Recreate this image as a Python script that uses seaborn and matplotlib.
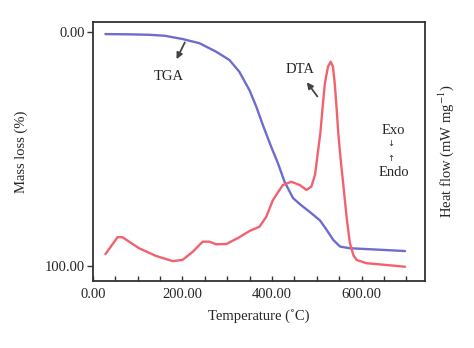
import matplotlib
matplotlib.use("Agg")
import matplotlib.pyplot as plt
import seaborn as sns
import numpy as np
import pandas as pd
from matplotlib.ticker import MultipleLocator, FixedLocator, FuncFormatter

# ---- data ----
tga_temp = [28, 80, 126, 160, 200, 238, 275, 305, 327, 350, 365, 380, 398, 413, 428, 447, 465, 485, 507, 520,
            537, 552, 574, 626, 697]
tga_mass = [0.9, 1.0, 1.2, 1.6, 3.0, 4.8, 8.4, 12.0, 17.0, 25.0, 32.0, 40.0, 49.0, 56.0, 64.0, 71.0, 74.0, 77.0, 80.5, 84.0,
            88.9, 91.7, 92.4, 92.9, 93.6]

dta_temp = [28, 55, 66, 103, 141, 178, 200, 223, 245, 260, 275, 298, 327, 350, 372, 387, 402, 424, 443, 462,
            477, 488, 496, 502, 508, 513, 518, 525, 531, 536, 540, 544, 548, 553, 559, 567, 574, 582, 589, 611,
            641, 697]
dta_val = [94.9, 87.7, 87.7, 92.4, 95.7, 97.9, 97.4, 93.9, 89.6, 89.6, 90.7, 90.6, 87.7, 85.0, 83.2, 79.0, 71.8, 65.4, 64.0, 65.4,
           67.5, 66.0, 61.0, 52.0, 43.0, 32.0, 22.0, 14.8, 12.7, 14.8, 21.9, 32.0, 43.3, 54.0, 65.0, 80.0, 90.3, 95.5, 97.4, 98.8,
           99.3, 100.3]

x_ticks = [0, 200, 400, 600]
y_ticks = [0, 100]

tga_df = pd.DataFrame({"Temperature": tga_temp, "Value": tga_mass})
dta_df = pd.DataFrame({"Temperature": dta_temp, "Value": dta_val})

sns.set_style("white")
plt.rcParams["font.family"] = ["Liberation Serif", "DejaVu Serif"]
plt.rcParams["mathtext.fontset"] = "stix"

fig = plt.figure(figsize=(4.74, 3.48), dpi=100)
ax = fig.add_axes([0.196, 0.1925, 0.701, 0.7445])

sns.lineplot(data=tga_df, x="Temperature", y="Value", ax=ax, color="#6e6ccc", lw=1.7, sort=False)
sns.lineplot(data=dta_df, x="Temperature", y="Value", ax=ax, color="#f2626e", lw=1.7, sort=False)

ax.set_xlim(0, 742)
ax.set_ylim(106.4, -4.3)

ax.xaxis.set_major_locator(FixedLocator(x_ticks))
ax.xaxis.set_minor_locator(MultipleLocator(50))
ax.xaxis.set_major_formatter(FuncFormatter(lambda v, p: f"{v:.2f}"))
ax.yaxis.set_major_locator(FixedLocator(y_ticks))
ax.yaxis.set_major_formatter(FuncFormatter(lambda v, p: f"{v:.2f}"))

ax.tick_params(axis="x", which="both", direction="in", length=3.5, width=1, color="#333333",
               labelsize=10.5, pad=5, bottom=True)
ax.tick_params(axis="y", which="major", direction="out", length=4, width=1, color="#333333",
               labelsize=10.5, pad=2, left=True)

for s in ax.spines.values():
    s.set_color("#333333")
    s.set_linewidth(1.3)

ax.set_xlabel("Temperature (˚C)", fontsize=10.5, labelpad=6)
ax.set_ylabel("Mass loss (%)", fontsize=10.5, labelpad=12)

ax2 = ax.twinx()
ax2.set_ylim(ax.get_ylim())
ax2.set_yticks([])
ax2.set_ylabel("Heat flow (mW mg$^{-1}$)", fontsize=10.5, labelpad=8)
for s in ax2.spines.values():
    s.set_visible(False)

arrowprops = dict(arrowstyle="-|>", color="#444444", lw=1.3, mutation_scale=9)
ax.annotate("", xy=(184, 12.7), xytext=(208, 3.4), arrowprops=arrowprops)
ax.text(170, 19.2, "TGA", ha="center", va="center", fontsize=10.5)
ax.annotate("", xy=(474, 20.5), xytext=(505, 28.5), arrowprops=arrowprops)
ax.text(462, 16.2, "DTA", ha="center", va="center", fontsize=10.5)

ax.text(670, 42, "Exo", ha="center", va="center", fontsize=10.5)
ax.text(666, 47.5, "↓", ha="center", va="center", fontsize=6, family=["DejaVu Sans"])
ax.text(666, 54, "↑", ha="center", va="center", fontsize=6, family=["DejaVu Sans"])
ax.text(672, 60, "Endo", ha="center", va="center", fontsize=10.5)

fig.savefig("out.png", dpi=100)
